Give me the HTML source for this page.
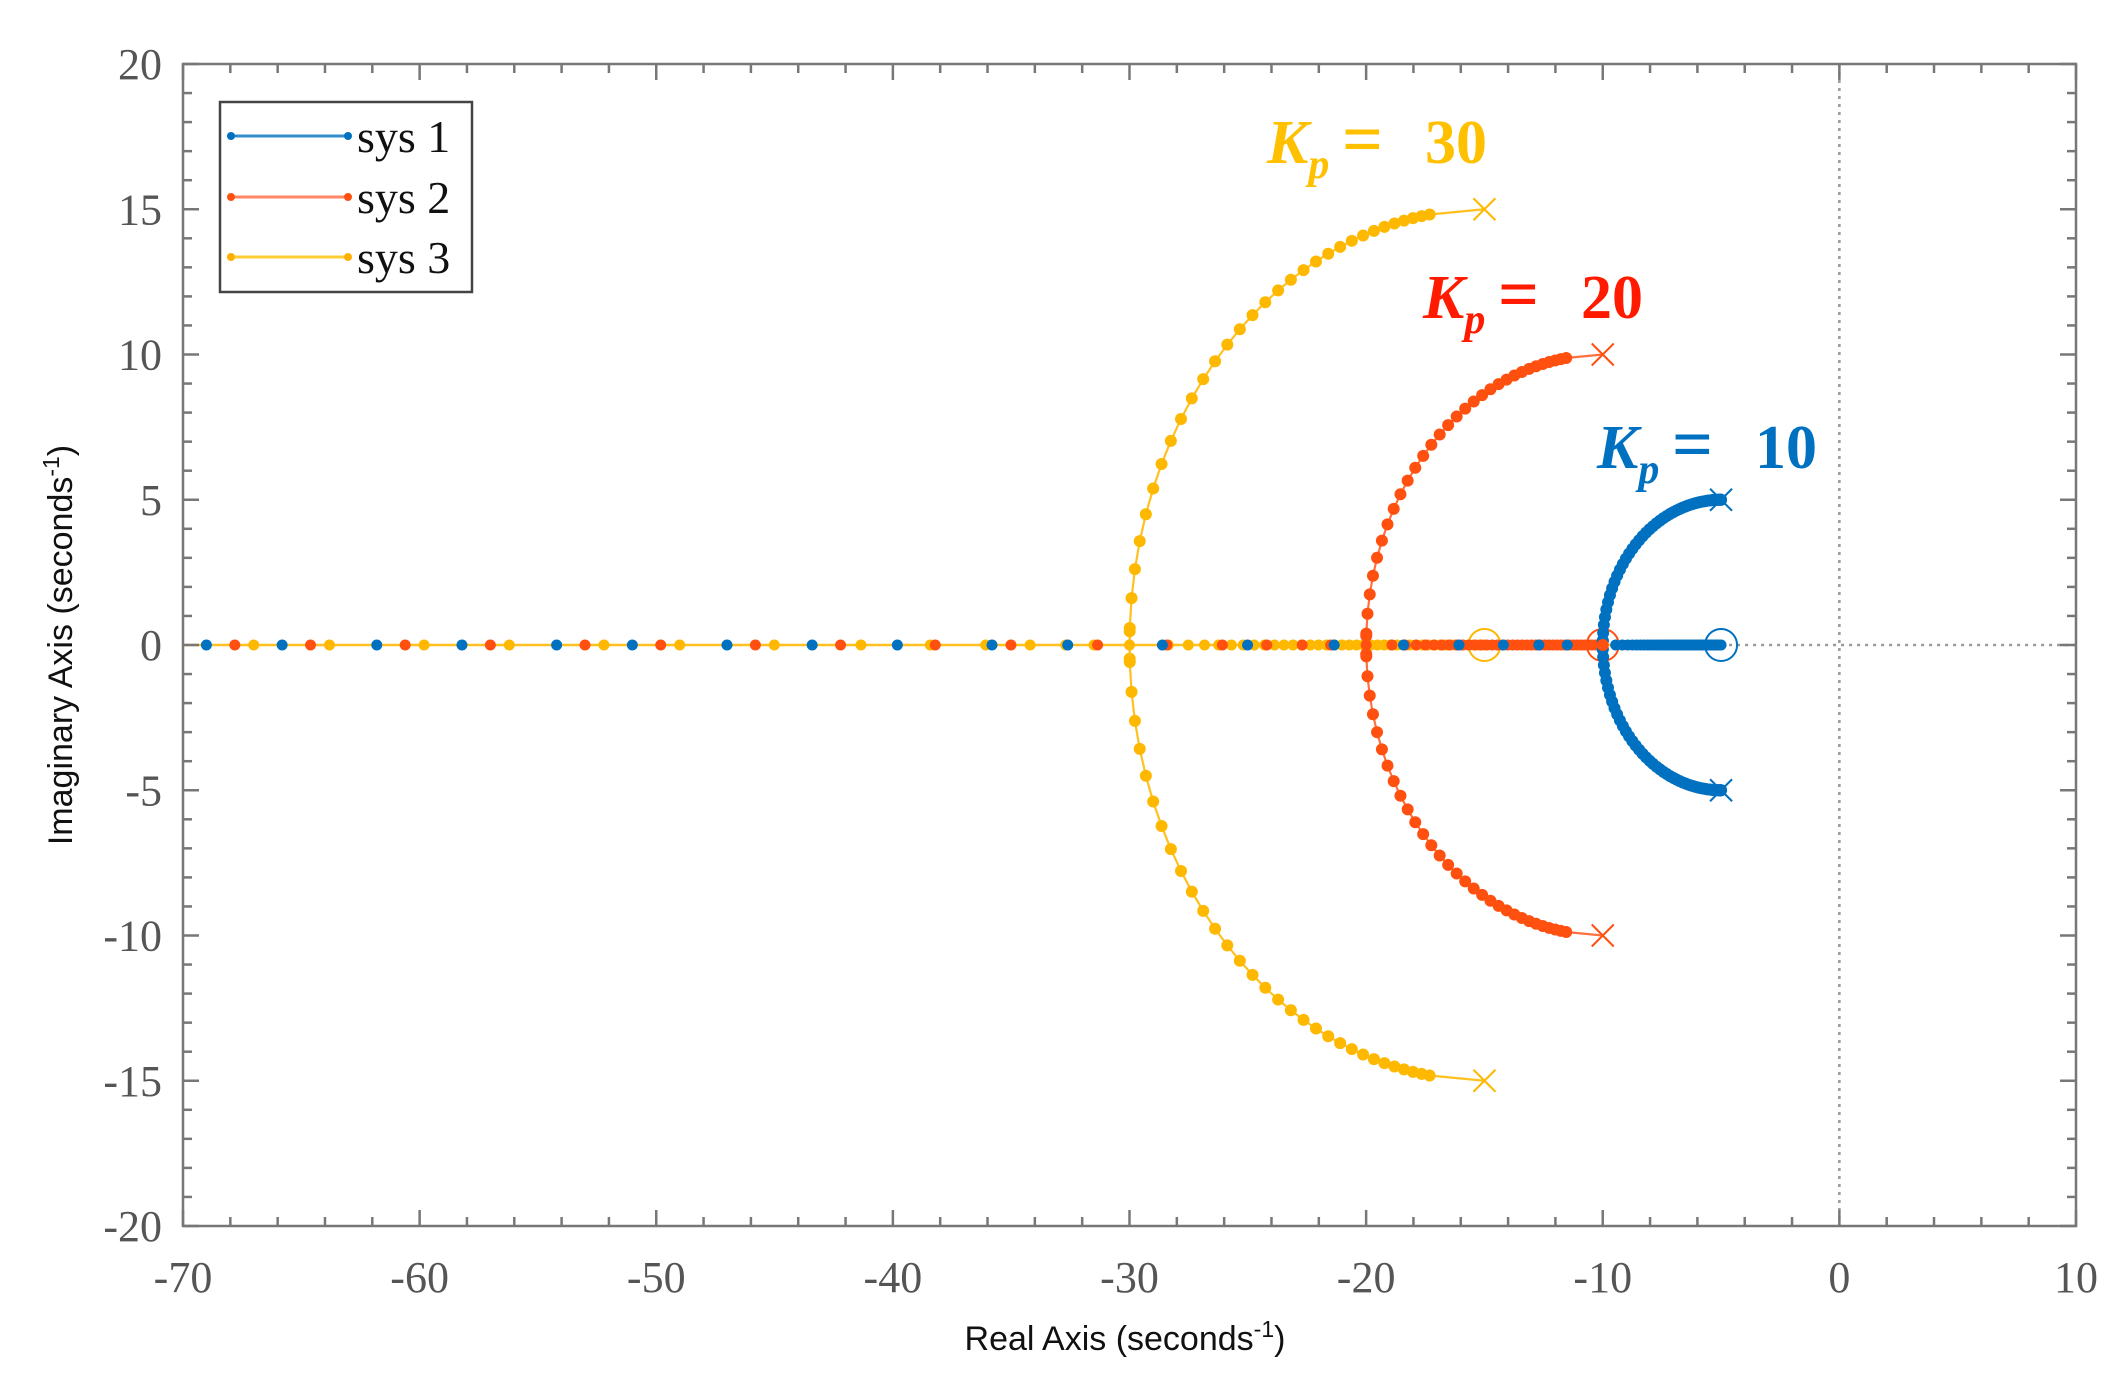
<!DOCTYPE html>
<html><head><meta charset="utf-8"><style>
html,body{margin:0;padding:0;background:#fff;}
svg{display:block;}
</style></head><body>
<svg id="s" width="2125" height="1384" xmlns="http://www.w3.org/2000/svg">
<rect width="2125" height="1384" fill="#fff"/>
<g id="plot"></g>
<rect x="183" y="64" width="1893" height="1162" fill="none" stroke="#777" stroke-width="2.5"/>
<g id="ticks" stroke="#777" stroke-width="2.5"></g>
<g id="labels" font-family="Liberation Serif, serif" font-size="44" fill="#555"></g>
<text x="1125" y="1350" font-family="Liberation Sans, sans-serif" font-size="34" fill="#111" text-anchor="middle">Real Axis (seconds<tspan dy="-13" font-size="23">-1</tspan><tspan dy="13">)</tspan></text>
<text transform="translate(72,645) rotate(-90)" font-family="Liberation Sans, sans-serif" font-size="34" fill="#111" text-anchor="middle">Imaginary Axis (seconds<tspan dy="-13" font-size="23">-1</tspan><tspan dy="13">)</tspan></text>
<rect x="220" y="102" width="252" height="190" fill="#fff" stroke="#444" stroke-width="2.5"/>
<g font-family="Liberation Serif, serif" font-size="46" fill="#111">
<line x1="231" y1="136" x2="348" y2="136" stroke="#0070C0" stroke-width="3" opacity="0.8"/><circle cx="231" cy="136" r="4" fill="#0070C0"/><circle cx="348" cy="136" r="4" fill="#0070C0"/>
<text x="357" y="152">sys 1</text>
<line x1="231" y1="197" x2="348" y2="197" stroke="#FF6A40" stroke-width="3" opacity="0.8"/><circle cx="231" cy="197" r="4" fill="#FF5010"/><circle cx="348" cy="197" r="4" fill="#FF5010"/>
<text x="357" y="213">sys 2</text>
<line x1="231" y1="257" x2="348" y2="257" stroke="#FFC000" stroke-width="3" opacity="0.8"/><circle cx="231" cy="257" r="4" fill="#FFB000"/><circle cx="348" cy="257" r="4" fill="#FFB000"/>
<text x="357" y="273">sys 3</text>
</g>
<g font-family="Liberation Serif, serif" font-weight="bold" font-size="62">
<text x="1267" y="163" fill="#FFC000"><tspan font-style="italic">K</tspan><tspan font-style="italic" font-size="42" dy="15">p</tspan><tspan dy="-15" x="1342" font-size="72">=</tspan><tspan x="1425">30</tspan></text>
<text x="1423" y="318" fill="#FF1A00"><tspan font-style="italic">K</tspan><tspan font-style="italic" font-size="42" dy="15">p</tspan><tspan dy="-15" x="1498" font-size="72">=</tspan><tspan x="1581">20</tspan></text>
<text x="1597" y="468" fill="#0070C0"><tspan font-style="italic">K</tspan><tspan font-style="italic" font-size="42" dy="15">p</tspan><tspan dy="-15" x="1672" font-size="72">=</tspan><tspan x="1755">10</tspan></text>
</g>
</svg>
<script>
var NS="http://www.w3.org/2000/svg";
function X(v){return 183+(v+70)*23.6625;}
function Y(v){return 645-v*29.05;}
function el(p,t,a){var e=document.createElementNS(NS,t);for(var k in a)e.setAttribute(k,a[k]);p.appendChild(e);return e;}
var tk=document.getElementById('ticks'),lb=document.getElementById('labels'),pl=document.getElementById('plot');
for(var v=-70;v<=10;v+=2){var maj=(v%10==0);var L=maj?16:9;
 el(tk,'line',{x1:X(v),y1:1226,x2:X(v),y2:1226-L});el(tk,'line',{x1:X(v),y1:64,x2:X(v),y2:64+L});
 if(maj){var t=el(lb,'text',{x:X(v),y:1292,'text-anchor':'middle'});t.textContent=v;}}
for(var v=-20;v<=20;v+=1){var maj=(v%5==0);var L=maj?16:9;
 el(tk,'line',{x1:183,y1:Y(v),x2:183+L,y2:Y(v)});el(tk,'line',{x1:2076,y1:Y(v),x2:2076-L,y2:Y(v)});
 if(maj){var t=el(lb,'text',{x:162,y:Y(v)+15,'text-anchor':'end'});t.textContent=v;}}
el(pl,'line',{x1:X(0),y1:64,x2:X(0),y2:1226,stroke:'#999','stroke-width':2.5,'stroke-dasharray':'3,5'});
el(pl,'line',{x1:X(-5),y1:645,x2:2076,y2:645,stroke:'#999','stroke-width':2.5,'stroke-dasharray':'3,5'});
var sys=[{c:'#0070C0',lc:'#2a8ad0',k:5},{c:'#FF5010',lc:'#FF7040',k:10},{c:'#FFB800',lc:'#FFC020',k:15}];
el(pl,'line',{x1:X(-70),y1:645,x2:X(-5),y2:645,stroke:'#FFC020','stroke-width':2.5});
var ord=[2,1,0];
ord.forEach(function(i){var s=sys[i],k=s.k,c=s.c;
 [1,-1].forEach(function(sg){var line=[],dots=[];
  line.push([X(-k),Y(sg*k)]);
  var N=(k==5)?55:45;
  for(var j=0;j<=N;j++){var u=j/N;var th=Math.PI/2+Math.PI/2*Math.pow(u,2.0)*1.02;
   var p=[X(-k+k*Math.cos(th)),Y(sg*k*Math.sin(th))];
   if(k==5||th>Math.PI/2+0.14){line.push(p);dots.push(p);}}
  el(pl,'polyline',{points:line.map(function(p){return p.join(',')}).join(' '),fill:'none',stroke:s.lc,'stroke-width':2.2});
  dots.forEach(function(p){el(pl,'circle',{cx:p[0],cy:p[1],r:6,fill:c});});
  var px=X(-k),py=Y(sg*k);el(pl,'path',{d:'M'+(px-11)+' '+(py-11)+'L'+(px+11)+' '+(py+11)+'M'+(px+11)+' '+(py-11)+'L'+(px-11)+' '+(py+11),stroke:c,'stroke-width':2});
 });
 for(var j=0;j<=40;j++){var x=-2*k+k*Math.pow(j/40,0.6);el(pl,'circle',{cx:X(x),cy:645,r:5.5,fill:c});}
 var x=-2*k-1.5,d=1.2;while(x>-70){el(pl,'circle',{cx:X(x),cy:645,r:5.5,fill:c});x-=d;d*=1.25;if(d>4.2)d=3.2+((i*7+Math.round(-x))%3)*0.4;}
 el(pl,'circle',{cx:X(-k),cy:645,r:16,fill:'none',stroke:c,'stroke-width':2});
});
el(pl,'circle',{cx:X(-10),cy:645,r:6,fill:'#FF5010'});
</script>
</body></html>
